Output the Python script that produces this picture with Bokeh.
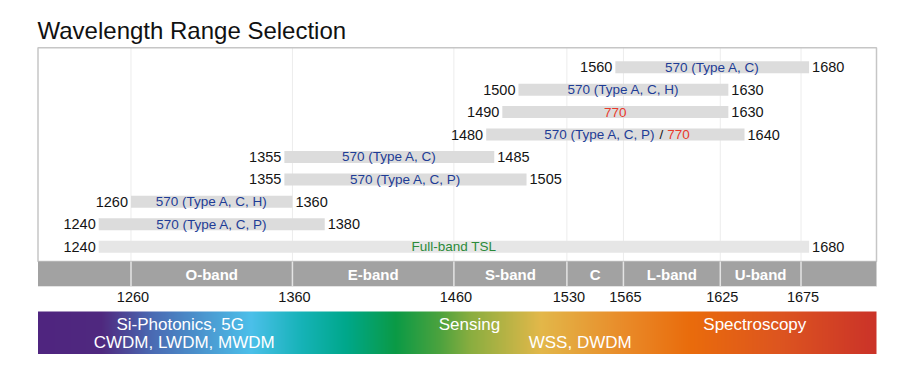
import numpy as np
from bokeh.plotting import figure
from bokeh.models import Range1d, ColumnDataSource
from bokeh.core.properties import value
from bokeh.embed import file_html
from bokeh.resources import INLINE

# ---------------- data ----------------
title_text = "Wavelength Range Selection"
# rows listed from bottom to top
range_start = [1240, 1240, 1260, 1355, 1355, 1480, 1490, 1500, 1560]
range_end = [1680, 1380, 1360, 1505, 1485, 1640, 1630, 1630, 1680]
range_label = ["Full-band TSL", "570 (Type A, C, P)", "570 (Type A, C, H)",
               "570 (Type A, C, P)", "570 (Type A, C)", "570 (Type A, C, P) / 770",
               "770", "570 (Type A, C, H)", "570 (Type A, C)"]
band_edges = [1260, 1360, 1460, 1530, 1565, 1625, 1675]
band_names = ["O-band", "E-band", "S-band", "C", "L-band", "U-band"]
tick_labels = ["1260", "1360", "1460", "1530", "1565", "1625", "1675"]
applications = ["Si-Photonics, 5G", "CWDM, LWDM, MWDM", "Sensing", "WSS, DWDM", "Spectroscopy"]

# ---------------- layout / style ----------------
W, H = 913, 375
PX0 = 98.2          # pixel of 1240 nm
SCALE = 1.6145      # px per nm
X0 = 1240 - PX0 / SCALE
X1 = X0 + W / SCALE


def nm(px):
    return X0 + px / SCALE


FONT = value("Liberation Sans")
BLUE = "#1e3c96"
RED = "#e8392b"
GREEN = "#2b8a3a"
BLACK = "#141414"

LEFT_PX, RIGHT_PX, TOP_PX = 37.5, 876.0, 47.3
STRIP_TOP, STRIP_BOT = 261.0, 286.0
GRAD_TOP, GRAD_BOT = 311.0, 353.5
ROW0_Y, ROW_STEP, BAR_H = 246.2, 22.43, 12

p = figure(width=W, height=H, output_backend="svg", toolbar_location=None,
           x_range=Range1d(X0, X1), y_range=Range1d(H, 0),
           x_axis_type=None, y_axis_type=None, min_border=0,
           outline_line_color=None, background_fill_color="white",
           border_fill_color="white")
p.grid.visible = False

# title
p.text(x=[nm(37)], y=[30.0], text=[title_text], text_font=FONT,
       text_font_size="24px", text_color="#111111", text_baseline="middle")

# faint vertical grid lines through chart area
p.segment(x0=band_edges, x1=band_edges, y0=[TOP_PX] * 7, y1=[STRIP_TOP] * 7,
          line_color="#ececec", line_width=1)

# chart frame
p.quad(left=[nm(LEFT_PX)], right=[nm(RIGHT_PX)], top=[TOP_PX], bottom=[STRIP_TOP],
       fill_color=None, line_color="#c6c6c6", line_width=1.5)

# bars
rows = list(range(len(range_start)))
row_y = [ROW0_Y - i * ROW_STEP for i in rows]
bar_colors = ["#e6e6e6" if lab.startswith("Full") else "#dcdcdc" for lab in range_label]
src = ColumnDataSource(dict(y=row_y, left=range_start, right=range_end, color=bar_colors,
                            ls=[str(v) for v in range_start], rs=[str(v) for v in range_end]))
p.hbar(y="y", left="left", right="right", height=BAR_H, fill_color="color",
       line_color=None, source=src)

# end labels
p.text(x="left", y="y", text="ls", source=src, text_font=FONT, text_font_size="14.5px",
       text_color=BLACK, text_align="right", text_baseline="middle", x_offset=-3)
p.text(x="right", y="y", text="rs", source=src, text_font=FONT, text_font_size="14.5px",
       text_color=BLACK, text_align="left", text_baseline="middle", x_offset=3)

# inner labels
for s, e, y, lab in zip(range_start, range_end, row_y, range_label):
    mid = (s + e) / 2
    if " / " in lab:
        a, b = lab.split(" / ")
        p.text(x=[mid], y=[y], text=[a], text_font=FONT, text_font_size="13.5px",
               text_color=BLUE, text_align="right", text_baseline="middle", x_offset=40)
        p.text(x=[mid], y=[y], text=["/"], text_font=FONT, text_font_size="13.5px",
               text_color=BLACK, text_align="center", text_baseline="middle", x_offset=46)
        p.text(x=[mid], y=[y], text=[b], text_font=FONT, text_font_size="13.5px",
               text_color=RED, text_align="left", text_baseline="middle", x_offset=52)
    else:
        col = GREEN if lab.startswith("Full") else (RED if lab.startswith("770") else BLUE)
        p.text(x=[mid], y=[y], text=[lab], text_font=FONT, text_font_size="13.5px",
               text_color=col, text_align="center", text_baseline="middle")

# band strip
p.quad(left=[nm(LEFT_PX)], right=[nm(RIGHT_PX)], top=[STRIP_TOP], bottom=[STRIP_BOT],
       fill_color="#a2a2a2", line_color=None)
p.segment(x0=band_edges, x1=band_edges, y0=[STRIP_TOP] * 7, y1=[STRIP_BOT] * 7,
          line_color="#e4e4e4", line_width=1.5)
p.segment(x0=[nm(LEFT_PX)], x1=[nm(RIGHT_PX)], y0=[STRIP_BOT], y1=[STRIP_BOT],
          line_color="#e4e4e4", line_width=1)
band_mid = [(a + b) / 2 for a, b in zip(band_edges[:-1], band_edges[1:])]
p.text(x=band_mid, y=[274] * len(band_mid), text=band_names, text_font=FONT,
       text_font_size="15px", text_font_style="bold", text_color="white",
       text_align="center", text_baseline="middle")

# tick labels under the strip
p.text(x=band_edges, y=[296] * len(band_edges), text=tick_labels, text_font=FONT,
       text_font_size="14.5px", text_color=BLACK, text_align="center",
       text_baseline="middle", x_offset=2)

# gradient bar (decorative colour ramp)
stops_px = [37.5, 100, 150, 250, 300, 345, 395, 440, 470, 540, 620, 690, 780, 876]
stops_col = ["#4f2580", "#50297f", "#4a6ab3", "#4cc0ea", "#17b3b8", "#00a88c", "#0b9a46",
             "#4ea33e", "#8aae40", "#e3b84a", "#e98d2b", "#ea6c0c", "#dd5520", "#cb3329"]
ncol = int(RIGHT_PX - LEFT_PX)
xs = np.linspace(LEFT_PX, RIGHT_PX, ncol)
rgb = np.array([[int(c[i:i + 2], 16) for i in (1, 3, 5)] for c in stops_col], dtype=float)
img = np.zeros((1, ncol), dtype=np.uint32)
view = img.view(dtype=np.uint8).reshape((1, ncol, 4))
for k in range(3):
    view[0, :, k] = np.interp(xs, stops_px, rgb[:, k]).astype(np.uint8)
view[0, :, 3] = 255
p.image_rgba(image=[img], x=nm(LEFT_PX), y=GRAD_TOP, dw=(RIGHT_PX - LEFT_PX) / SCALE,
             dh=GRAD_BOT - GRAD_TOP)

app_px = [179.7, 183.7, 469.0, 579.7, 754.3]
app_y = [323.5, 342.0, 323.5, 342.0, 323.5]
p.text(x=[nm(v) for v in app_px], y=app_y, text=applications, text_font=FONT,
       text_font_size="17px", text_color="white", text_align="center",
       text_baseline="middle")

open("out.html", "w").write(file_html(p, INLINE))
